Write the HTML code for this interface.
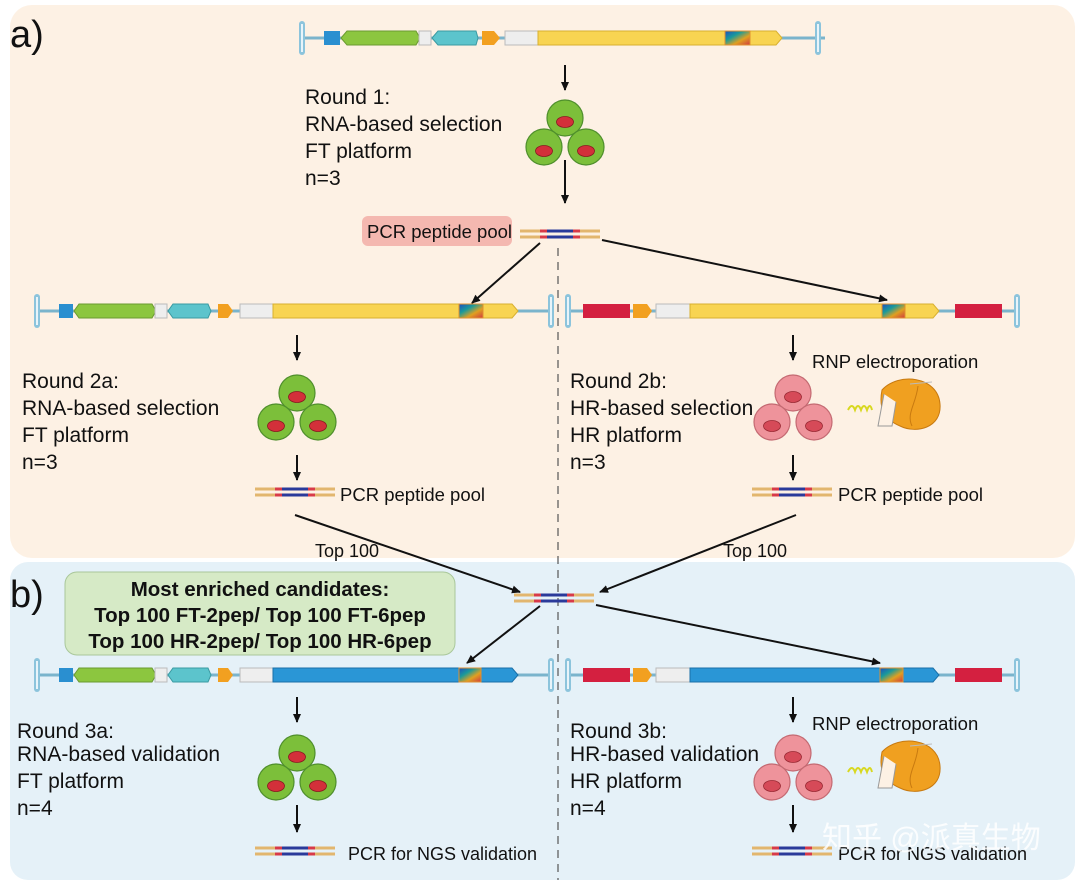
<!DOCTYPE html>
<html><head><meta charset="utf-8"><style>
html,body{margin:0;padding:0;background:#fff;}
svg{display:block;font-family:"Liberation Sans","DejaVu Sans",sans-serif;}
</style></head><body>
<svg width="1080" height="882" viewBox="0 0 1080 882" xmlns="http://www.w3.org/2000/svg">
<defs>
<linearGradient id="rb" x1="0" y1="0" x2="1" y2="1">
<stop offset="0" stop-color="#1e4fc0"/><stop offset="0.35" stop-color="#1a9a9a"/><stop offset="0.65" stop-color="#e0a020"/><stop offset="1" stop-color="#d03a40"/>
</linearGradient>
<marker id="ah" markerWidth="10" markerHeight="10" refX="8" refY="5" orient="auto" markerUnits="userSpaceOnUse"><path d="M0,1 L9,5 L0,9 Z" fill="#111"/></marker>
<g id="tcapL"><path d="M0,-14 L0,14" stroke="#8cc4dc" stroke-width="6" stroke-linecap="round"/><path d="M0,-14 L0,14" stroke="#e8f4fa" stroke-width="2"/></g>
<g id="cellG"><circle r="18" fill="#7cbf3a" stroke="#4f8f2c" stroke-width="1.2"/><ellipse cx="0" cy="4" rx="8.5" ry="5.5" fill="#d3303a" stroke="#8a1a20" stroke-width="0.8"/></g>
<g id="cellP"><circle r="18" fill="#ee939b" stroke="#c46a72" stroke-width="1.2"/><ellipse cx="0" cy="4" rx="8.5" ry="5.5" fill="#d64a58" stroke="#9a2a34" stroke-width="0.8"/></g>
<g id="clG"><use href="#cellG" x="0" y="-17"/><use href="#cellG" x="-21" y="12"/><use href="#cellG" x="21" y="12"/></g>
<g id="clP"><use href="#cellP" x="0" y="-17"/><use href="#cellP" x="-21" y="12"/><use href="#cellP" x="21" y="12"/></g>
<g id="pool">
<path d="M0,0 H80 M0,6 H80" stroke="#e2b66e" stroke-width="3"/>
<path d="M20,0 H60 M20,6 H60" stroke="#d83a48" stroke-width="3"/>
<path d="M27,0 H53 M27,6 H53" stroke="#2a3a9a" stroke-width="3"/>
</g>
<g id="prot">
<path d="M-28,6 q4,-8 7,0 q3,-8 6,0 q3,-8 6,0 q3,-8 5,0" fill="none" stroke="#d8d820" stroke-width="2"/>
<path d="M6,-14 C22,-32 62,-28 64,0 C66,24 40,30 24,22 C10,16 2,6 6,-14Z" fill="#f0a020" stroke="#c87a10"/>
<path d="M8,-10 L2,22 L16,22 L20,-2" fill="#fdf1e4" stroke="#999" stroke-width="1"/>
<path d="M42,-18 C40,0 30,10 36,22" fill="none" stroke="#c87a10"/>
<path d="M34,-20 L56,-22" stroke="#bbb" stroke-width="1"/>
</g>
</defs>

<rect x="10" y="5" width="1065" height="553" rx="22" fill="#fdf1e4"/>
<rect x="10" y="562" width="1065" height="318" rx="18" fill="#e5f1f8"/>
<text x="10" y="47" font-size="38" fill="#111">a)</text>
<text x="10" y="607" font-size="38" fill="#111">b)</text>

<path d="M558,248 V880" stroke="#555" stroke-width="1.2" stroke-dasharray="8,6"/>

<g>
<path d="M305,38 H825" stroke="#7ab4cc" stroke-width="3"/>
<use href="#tcapL" x="302" y="38"/><use href="#tcapL" x="818" y="38"/>
<rect x="324" y="31" width="16" height="14" fill="#2a8fd0"/>
<polygon points="347,31 416,31 420,38 416,45 347,45 341,38" fill="#8cc63f" stroke="#6a9a30"/>
<rect x="419" y="31" width="12" height="14" fill="#eee" stroke="#bbb"/>
<polygon points="438,31 476,31 478,38 476,45 438,45 432,38" fill="#5cc4cc" stroke="#3a9aa2"/>
<polygon points="482,31 494,31 500,38 494,45 482,45" fill="#f2a020"/>
<rect x="505" y="31" width="33" height="14" fill="#eee" stroke="#bbb"/>
<polygon points="538,31 776,31 782,38 776,45 538,45" fill="#f8d452" stroke="#d8b030"/>
<rect x="725" y="31" width="25" height="14" fill="url(#rb)" stroke="#e09030"/>
</g>

<g font-size="21" fill="#111">
<text x="305" y="104">Round 1:</text><text x="305" y="131">RNA-based selection</text><text x="305" y="158">FT platform</text><text x="305" y="185">n=3</text>
</g>
<path d="M565,65 V90" stroke="#111" stroke-width="2" marker-end="url(#ah)"/>
<use href="#clG" x="565" y="135"/>
<path d="M565,160 V203" stroke="#111" stroke-width="2" marker-end="url(#ah)"/>
<rect x="362" y="216" width="150" height="30" rx="6" fill="#f4b8b0"/>
<text x="367" y="238" font-size="18.5" fill="#111">PCR peptide pool</text>
<use href="#pool" x="520" y="231"/>
<path d="M540,243 L472,303" stroke="#111" stroke-width="2" marker-end="url(#ah)"/>
<path d="M602,240 L887,300" stroke="#111" stroke-width="2" marker-end="url(#ah)"/>

<g>
<path d="M40,311 H550" stroke="#7ab4cc" stroke-width="3"/>
<use href="#tcapL" x="37" y="311"/><use href="#tcapL" x="551" y="311"/>
<rect x="59" y="304" width="14" height="14" fill="#2a8fd0"/>
<polygon points="79,304 152,304 156,311 152,318 79,318 74,311" fill="#8cc63f" stroke="#6a9a30"/>
<rect x="155" y="304" width="12" height="14" fill="#eee" stroke="#bbb"/>
<polygon points="173,304 208,304 211,311 208,318 173,318 168,311" fill="#5cc4cc" stroke="#3a9aa2"/>
<polygon points="218,304 228,304 233,311 228,318 218,318" fill="#f2a020"/>
<rect x="240" y="304" width="33" height="14" fill="#eee" stroke="#bbb"/>
<polygon points="273,304 512,304 518,311 512,318 273,318" fill="#f8d452" stroke="#d8b030"/>
<rect x="459" y="304" width="24" height="14" fill="url(#rb)" stroke="#e09030"/>
</g>
<g>
<path d="M570,311 H1015" stroke="#7ab4cc" stroke-width="3"/>
<use href="#tcapL" x="568" y="311"/><use href="#tcapL" x="1017" y="311"/>
<rect x="583" y="304" width="47" height="14" fill="#d42040"/>
<polygon points="633,304 647,304 652,311 647,318 633,318" fill="#f2a020"/>
<rect x="656" y="304" width="34" height="14" fill="#eee" stroke="#bbb"/>
<polygon points="690,304 933,304 939,311 933,318 690,318" fill="#f8d452" stroke="#d8b030"/>
<rect x="882" y="304" width="23" height="14" fill="url(#rb)" stroke="#e09030"/>
<rect x="955" y="304" width="47" height="14" fill="#d42040"/>
</g>

<g font-size="21" fill="#111">
<text x="22" y="388">Round 2a:</text><text x="22" y="415">RNA-based selection</text><text x="22" y="442">FT platform</text><text x="22" y="469">n=3</text>
<text x="570" y="388">Round 2b:</text><text x="570" y="415">HR-based selection</text><text x="570" y="442">HR platform</text><text x="570" y="469">n=3</text>
</g>
<path d="M297,335 V360" stroke="#111" stroke-width="2" marker-end="url(#ah)"/>
<use href="#clG" x="297" y="410"/>
<path d="M297,455 V480" stroke="#111" stroke-width="2" marker-end="url(#ah)"/>
<use href="#pool" x="255" y="489"/>
<text x="340" y="501" font-size="18.5" fill="#111">PCR peptide pool</text>
<path d="M793,335 V360" stroke="#111" stroke-width="2" marker-end="url(#ah)"/>
<text x="812" y="368" font-size="18.5" fill="#111">RNP electroporation</text>
<use href="#clP" x="793" y="410"/>
<use href="#prot" x="876" y="404"/>
<path d="M793,455 V480" stroke="#111" stroke-width="2" marker-end="url(#ah)"/>
<use href="#pool" x="752" y="489"/>
<text x="838" y="501" font-size="18.5" fill="#111">PCR peptide pool</text>

<path d="M295,515 L520,592" stroke="#111" stroke-width="2" marker-end="url(#ah)"/>
<path d="M796,515 L600,592" stroke="#111" stroke-width="2" marker-end="url(#ah)"/>
<text x="315" y="557" font-size="18" fill="#111">Top 100</text>
<text x="723" y="557" font-size="18" fill="#111">Top 100</text>
<use href="#pool" x="514" y="595"/>

<rect x="65" y="572" width="390" height="83" rx="12" fill="#d6eac6" stroke="#a9c79a"/>
<g font-size="20.5" font-weight="bold" fill="#111" text-anchor="middle">
<text x="260" y="596">Most enriched candidates:</text>
<text x="260" y="622">Top 100 FT-2pep/  Top 100 FT-6pep</text>
<text x="260" y="648">Top 100 HR-2pep/ Top 100 HR-6pep</text>
</g>
<path d="M540,606 L467,663" stroke="#111" stroke-width="2" marker-end="url(#ah)"/>
<path d="M596,605 L880,663" stroke="#111" stroke-width="2" marker-end="url(#ah)"/>

<g>
<path d="M40,675 H550" stroke="#7ab4cc" stroke-width="3"/>
<use href="#tcapL" x="37" y="675"/><use href="#tcapL" x="551" y="675"/>
<rect x="59" y="668" width="14" height="14" fill="#2a8fd0"/>
<polygon points="79,668 152,668 156,675 152,682 79,682 74,675" fill="#8cc63f" stroke="#6a9a30"/>
<rect x="155" y="668" width="12" height="14" fill="#eee" stroke="#bbb"/>
<polygon points="173,668 208,668 211,675 208,682 173,682 168,675" fill="#5cc4cc" stroke="#3a9aa2"/>
<polygon points="218,668 228,668 233,675 228,682 218,682" fill="#f2a020"/>
<rect x="240" y="668" width="33" height="14" fill="#eee" stroke="#bbb"/>
<polygon points="273,668 512,668 518,675 512,682 273,682" fill="#2a96d6" stroke="#1a70a8"/>
<rect x="459" y="668" width="22" height="14" fill="url(#rb)" stroke="#e09030"/>
</g>
<g>
<path d="M570,675 H1015" stroke="#7ab4cc" stroke-width="3"/>
<use href="#tcapL" x="568" y="675"/><use href="#tcapL" x="1017" y="675"/>
<rect x="583" y="668" width="47" height="14" fill="#d42040"/>
<polygon points="633,668 647,668 652,675 647,682 633,682" fill="#f2a020"/>
<rect x="656" y="668" width="34" height="14" fill="#eee" stroke="#bbb"/>
<polygon points="690,668 933,668 939,675 933,682 690,682" fill="#2a96d6" stroke="#1a70a8"/>
<rect x="880" y="668" width="23" height="14" fill="url(#rb)" stroke="#e09030"/>
<rect x="955" y="668" width="47" height="14" fill="#d42040"/>
</g>

<g font-size="21" fill="#111">
<text x="17" y="738">Round 3a:</text><text x="17" y="761">RNA-based validation</text><text x="17" y="788">FT platform</text><text x="17" y="815">n=4</text>
<text x="570" y="738">Round 3b:</text><text x="570" y="761">HR-based validation</text><text x="570" y="788">HR platform</text><text x="570" y="815">n=4</text>
</g>
<path d="M297,697 V722" stroke="#111" stroke-width="2" marker-end="url(#ah)"/>
<use href="#clG" x="297" y="770"/>
<path d="M297,805 V832" stroke="#111" stroke-width="2" marker-end="url(#ah)"/>
<use href="#pool" x="255" y="848"/>
<text x="348" y="860" font-size="18" fill="#111">PCR for NGS validation</text>
<path d="M793,697 V722" stroke="#111" stroke-width="2" marker-end="url(#ah)"/>
<text x="812" y="730" font-size="18.5" fill="#111">RNP electroporation</text>
<use href="#clP" x="793" y="770"/>
<use href="#prot" x="876" y="766"/>
<path d="M793,805 V832" stroke="#111" stroke-width="2" marker-end="url(#ah)"/>
<use href="#pool" x="752" y="848"/>
<text x="838" y="860" font-size="18" fill="#111">PCR for NGS validation</text>
<text x="822" y="848" font-size="30" fill="#ffffff" fill-opacity="0.85" font-family="'Liberation Sans','Noto Sans CJK SC',sans-serif">知乎 @派真生物</text>
</svg>
</body></html>
